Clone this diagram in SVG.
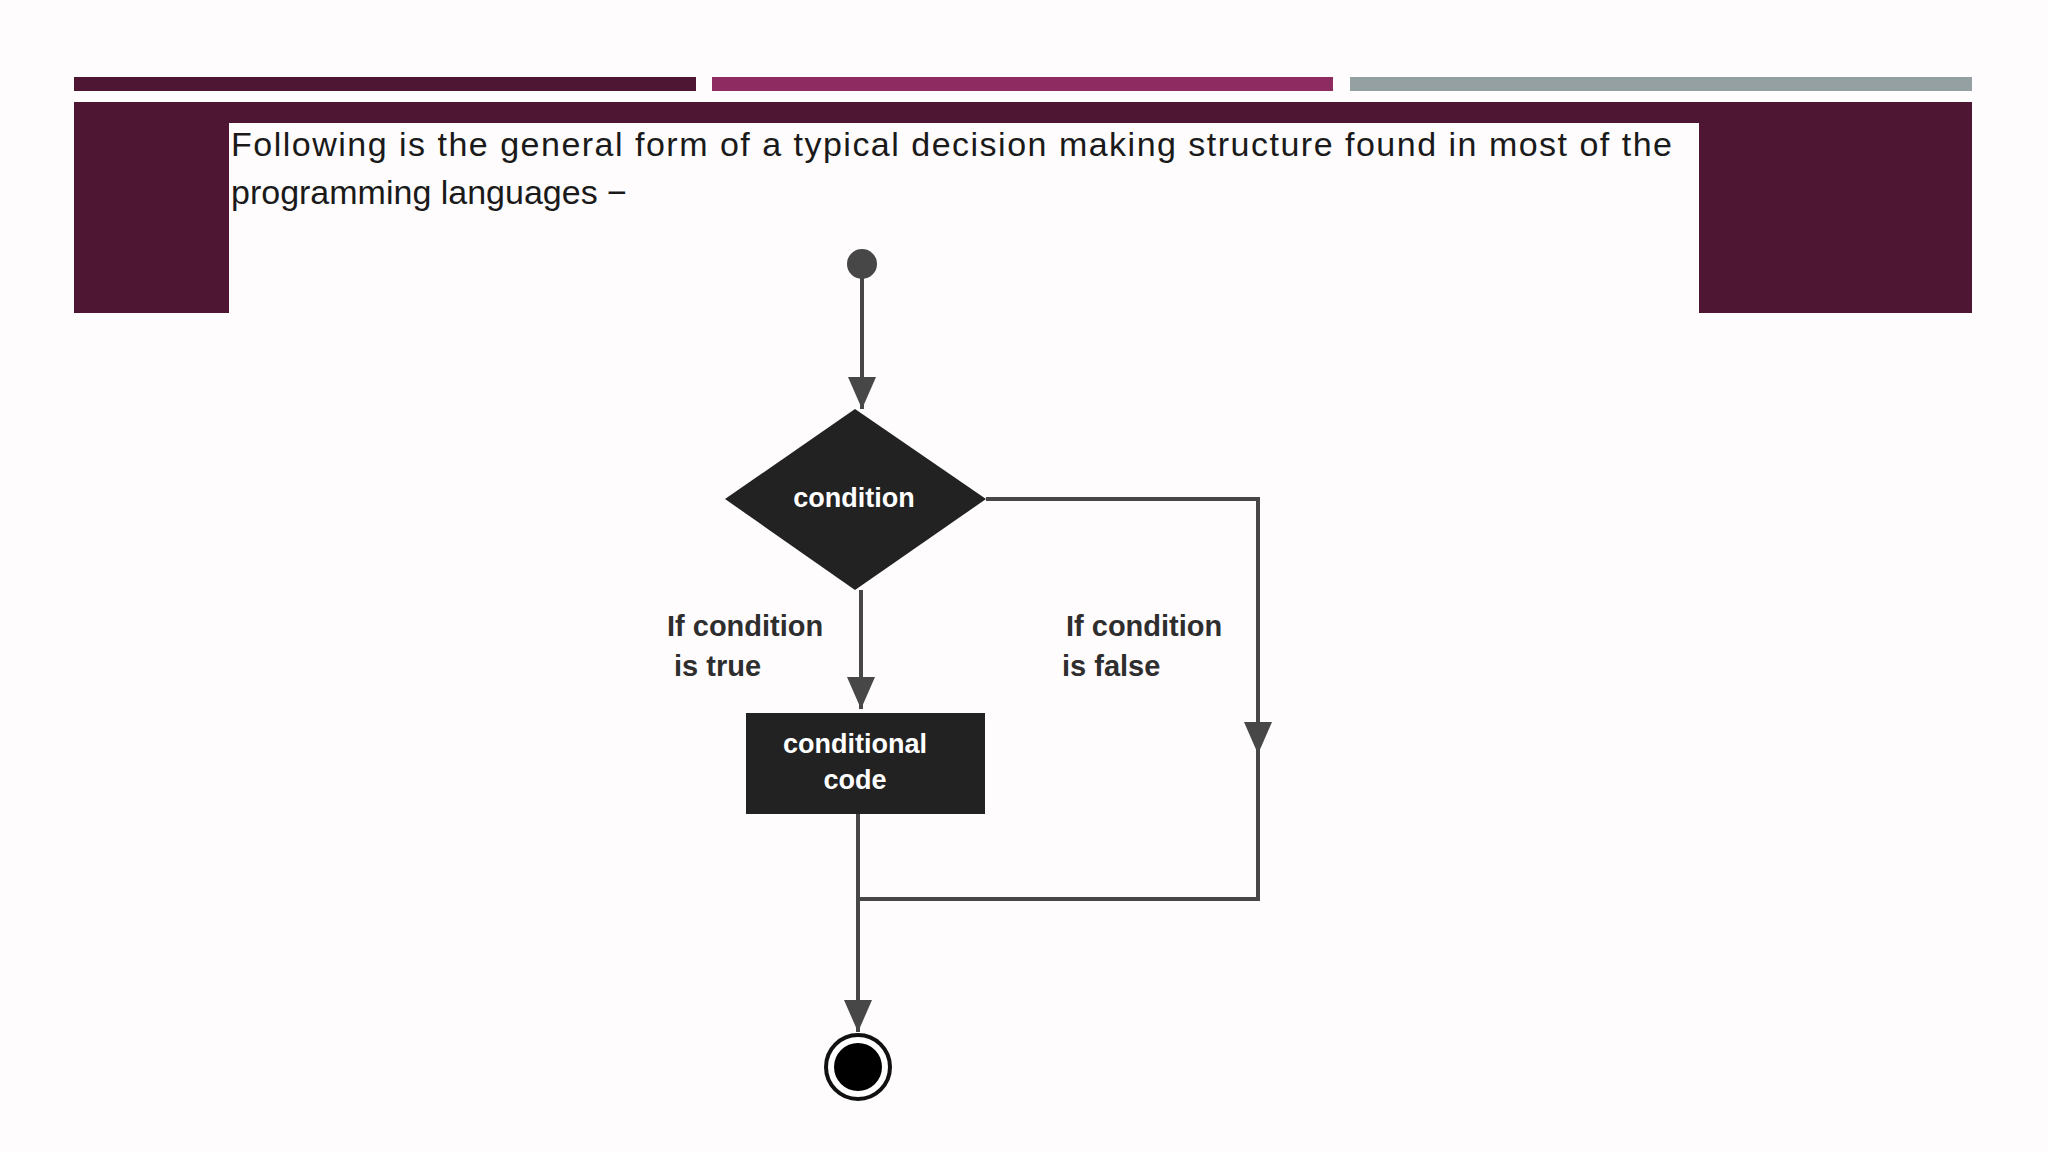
<svg xmlns="http://www.w3.org/2000/svg" width="2048" height="1152" viewBox="0 0 2048 1152">
<style>
.ln{stroke:#474747;stroke-width:4;fill:none}
.lbl{font-family:"Liberation Sans",Arial,sans-serif;font-weight:bold;font-size:29px;fill:#2e2e2e}
.wt{font-family:"Liberation Sans",Arial,sans-serif;font-weight:bold;font-size:27px;fill:#fff;text-anchor:middle}
.body{font-family:"Liberation Sans",Arial,sans-serif;font-size:34px;fill:#1a1a1a}
</style>
<defs>
<marker id="ah" viewBox="0 0 10 10" refX="10" refY="5" markerWidth="8" markerHeight="8" markerUnits="userSpaceOnUse" orient="auto">
<path d="M0,0 L10,5 L0,10 z" fill="#474747"/>
</marker>
<marker id="arr" viewBox="0 0 10 10" refX="10" refY="5" markerWidth="32" markerHeight="28" markerUnits="userSpaceOnUse" orient="auto" preserveAspectRatio="none">
<path d="M0,0 L10,5 L0,10 z" fill="#474747"/>
</marker>
</defs>
<rect width="2048" height="1152" fill="#fefcfd"/>
<rect x="74" y="77" width="622" height="14" fill="#4e1633"/>
<rect x="712" y="77" width="621" height="14" fill="#8e2c62"/>
<rect x="1350" y="77" width="622" height="14" fill="#95a0a3"/>
<rect x="74" y="102" width="1898" height="211" fill="#4e1633"/>
<rect x="229" y="123" width="1470" height="200" fill="#fefcfd"/>
<text class="body" x="231" y="156" textLength="1441" lengthAdjust="spacing">Following is the general form of a typical decision making structure found in most of the</text>
<text class="body" x="231" y="204">programming languages −</text>
<g id="connectors">
<line class="ln" x1="862" y1="270" x2="862" y2="409" marker-end="url(#arr)"/>
<line class="ln" x1="861" y1="590" x2="861" y2="709" marker-end="url(#arr)"/>
<polyline class="ln" points="986,499 1258,499 1258,754" marker-end="url(#arr)"/>
<polyline class="ln" points="1258,740 1258,899 858,899"/>
<line class="ln" x1="858" y1="814" x2="858" y2="1032" marker-end="url(#arr)"/>
</g>
<g id="start"><circle cx="862" cy="264" r="15" fill="#474747"/></g>
<g id="condition">
<polygon points="855,409 986,499 855,590 725,499" fill="#222"/>
<text class="wt" x="854" y="507">condition</text>
</g>
<g id="labels">
<text class="lbl" x="667" y="636">If condition</text>
<text class="lbl" x="674" y="676">is true</text>
<text class="lbl" x="1066" y="636">If condition</text>
<text class="lbl" x="1062" y="676">is false</text>
</g>
<g id="code">
<rect x="746" y="713" width="239" height="101" fill="#222"/>
<text class="wt" x="855" y="753">conditional</text>
<text class="wt" x="855" y="789">code</text>
</g>
<g id="end">
<circle cx="858" cy="1067" r="32" fill="#fff" stroke="#111" stroke-width="4"/>
<circle cx="858" cy="1067" r="24" fill="#000"/>
</g>
</svg>
